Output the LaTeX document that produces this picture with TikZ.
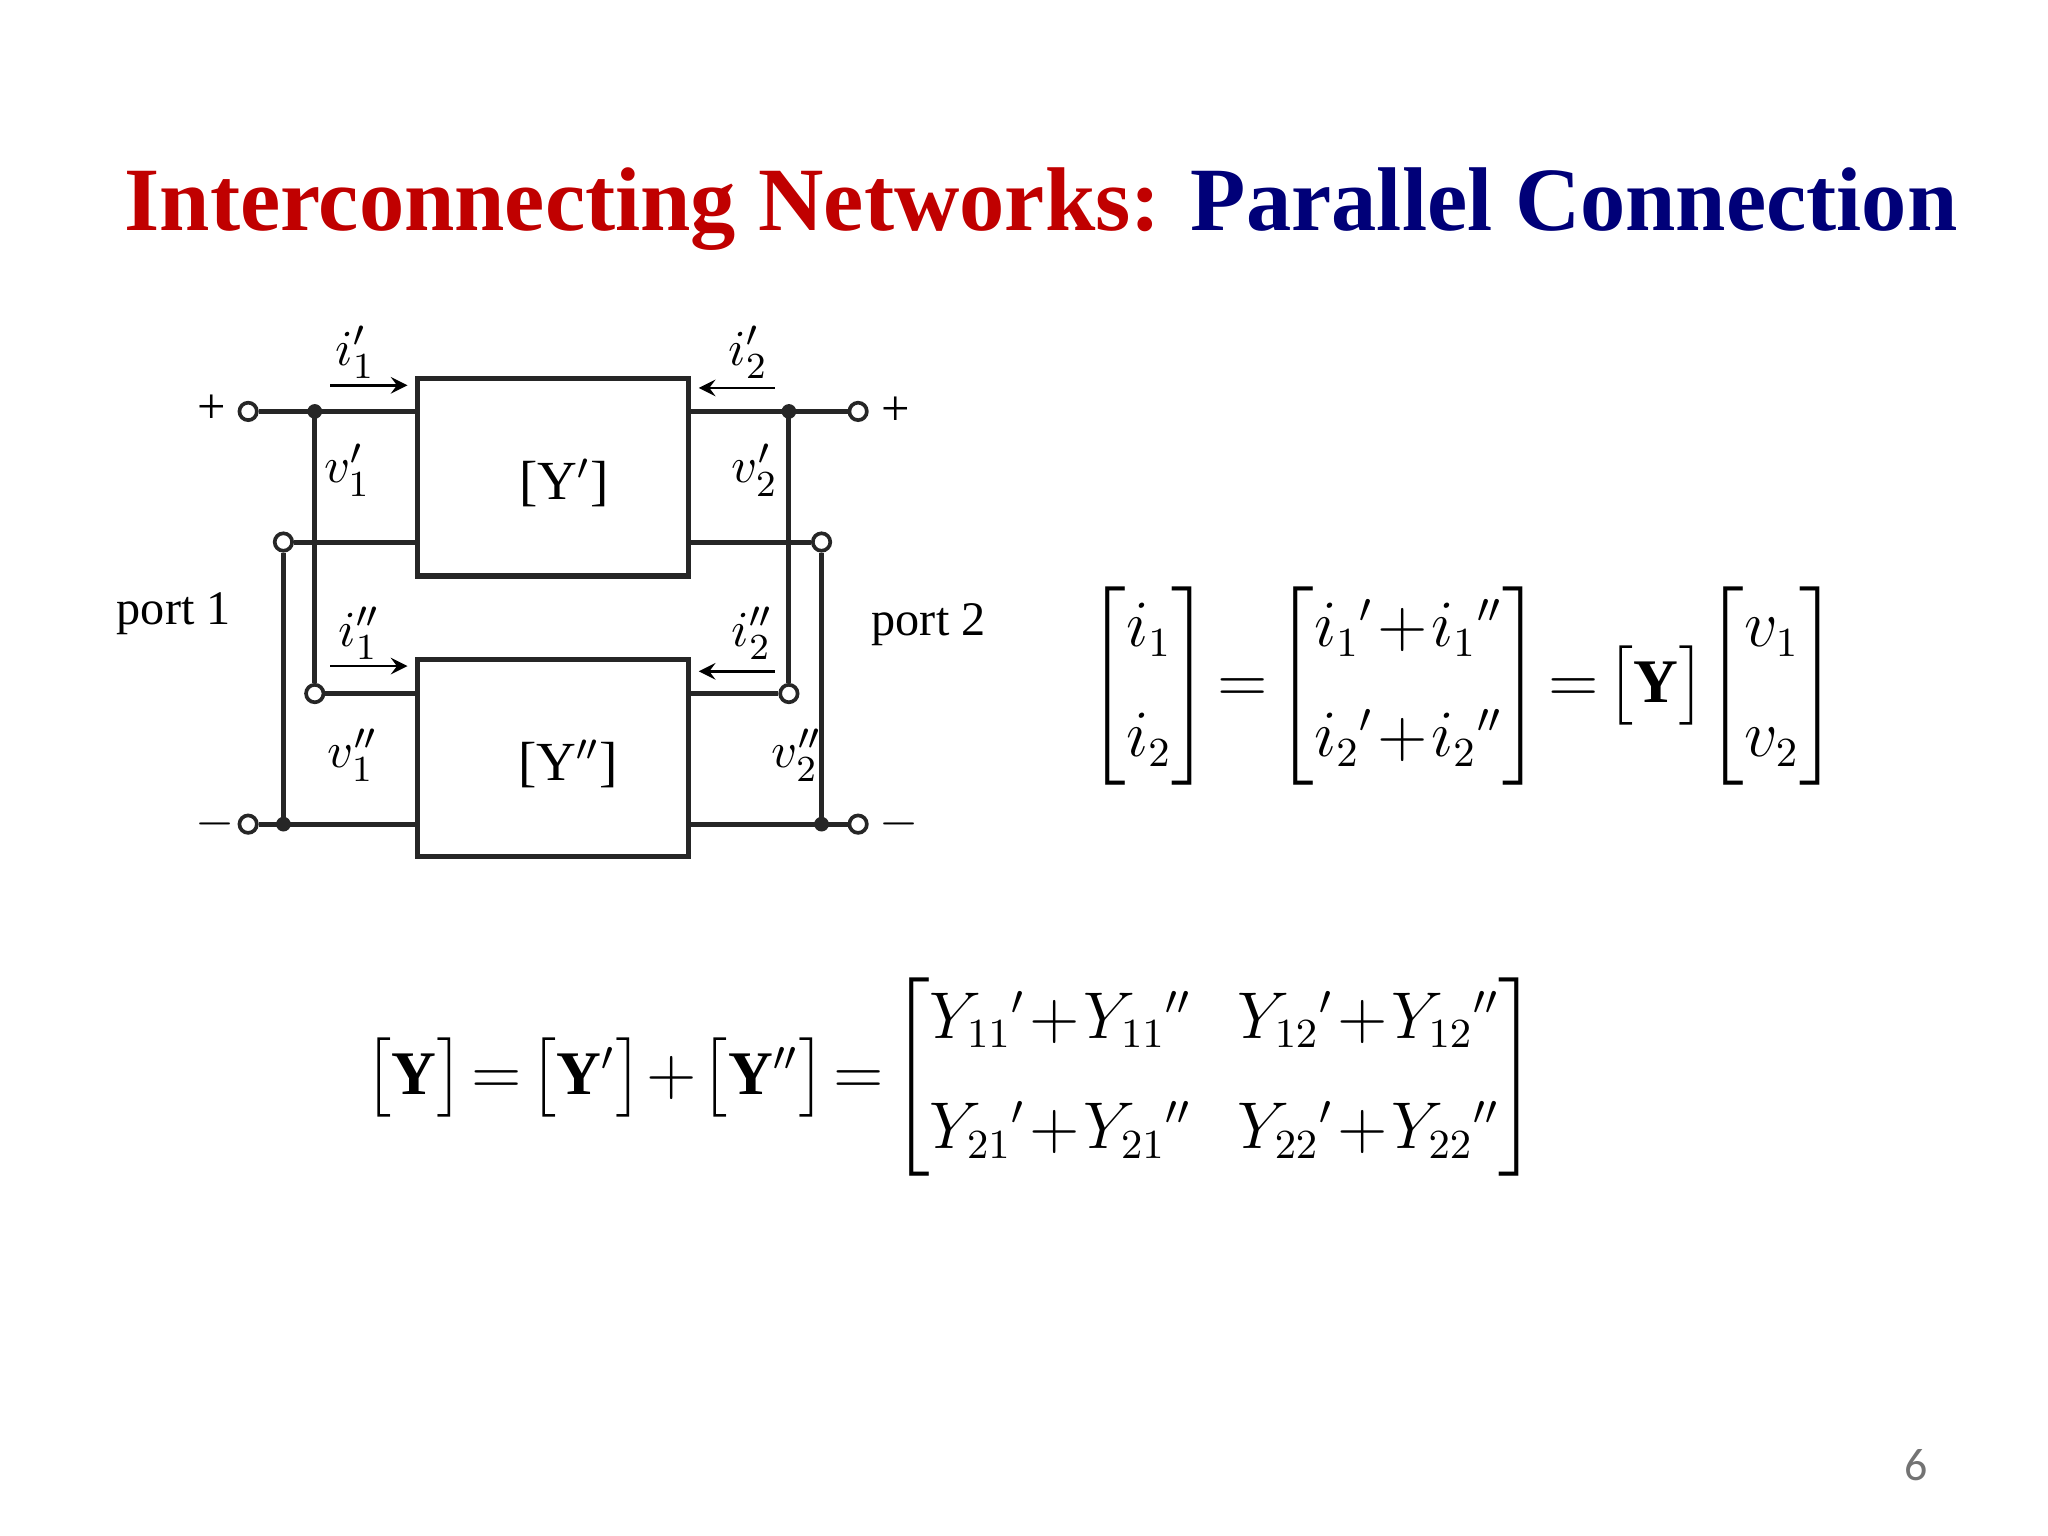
\documentclass[tikz,border=0pt]{standalone}
\usepackage{amsmath}
\usepackage{fontspec}
\setmainfont{Liberation Serif}
\newfontfamily\pgfont{Carlito}
\definecolor{tred}{RGB}{192,0,0}
\definecolor{tblue}{RGB}{0,0,120}
\begin{document}
\begin{tikzpicture}[x=0.01cm,y=-0.01cm,
  w/.style={line width=1.1pt,draw=black!85},
  oc/.style={circle,draw=black!85,line width=0.8pt,fill=white,inner sep=0,minimum size=3.8pt},
  dt/.style={circle,fill=black!85,inner sep=0,minimum size=3.2pt},
  bx/.style={draw=black!85,line width=1.1pt},
  lb/.style={font=\fontsize{11}{13}\selectfont},
  ar/.style={->,line width=0.6pt,>=stealth}]
\useasboundingbox (0,0) rectangle (1568,1176);
\node[font=\bfseries\fontsize{19.7}{24}\selectfont,anchor=center] (title) at (797,160) {\textcolor{tred}{Interconnecting Networks:} \textcolor{tblue}{Parallel Connection}};
% boxes
\draw[bx] (320,290) rectangle (527,441);
\draw[bx] (320,505) rectangle (527,656);
\node[font=\fontsize{12}{14}\selectfont] (y1) at (432,370) {[Y$'$]};
\node[font=\fontsize{12}{14}\selectfont] (y2) at (435,585) {[Y$''$]};
% terminals
\node[oc] (pa) at (190,315) {}; \node[oc] (pb) at (190,631) {};
\node[oc] (qa) at (657,315) {}; \node[oc] (qb) at (657,631) {};
\node[oc] (la) at (217,415) {}; \node[oc] (lb) at (241,531) {};
\node[oc] (ra) at (629,415) {}; \node[oc] (rb) at (604,531) {};
\coordinate (j1) at (241,315); \coordinate (j2) at (217,631);
\coordinate (j3) at (604,315); \coordinate (j4) at (629,631);
\draw[w] (pa) -- (320,315); \draw[w] (j1) -- (lb); \draw[w] (lb) -- (320,531);
\draw[w] (la) -- (320,415); \draw[w] (la) -- (j2); \draw[w] (pb) -- (320,631);
\draw[w] (527,315) -- (qa); \draw[w] (j3) -- (rb); \draw[w] (527,531) -- (rb);
\draw[w] (527,415) -- (ra); \draw[w] (ra) -- (j4); \draw[w] (527,631) -- (qb);
\node[dt] at (j1) {}; \node[dt] at (j2) {}; \node[dt] at (j3) {}; \node[dt] at (j4) {};
% labels
\node[lb] at (162,313) {+}; \node[lb] at (686,315) {+};
\node[lb] at (165,631) {$-$}; \node[lb] at (688,631) {$-$};
\node[lb] at (272,270) {$i_1'$}; \draw[ar] (253,295) -- (312,295);
\node[lb] at (573,270) {$i_2'$}; \draw[ar] (593,297) -- (535,297);
\node[lb] at (275,485) {$i_1''$}; \draw[ar] (253,510) -- (312,510);
\node[lb] at (576,485) {$i_2''$}; \draw[ar] (593,514) -- (535,514);
\node[lb] at (266,360) {$v_1'$}; \node[lb] at (578,360) {$v_2'$};
\node[lb] at (270,578) {$v_1''$}; \node[lb] at (610,578) {$v_2''$};
\node[font=\fontsize{10.5}{13}\selectfont] at (133,470) {port 1};
\node[font=\fontsize{10.5}{13}\selectfont] at (711,478) {port 2};
% equations
\node[font=\fontsize{13.5}{17}\selectfont] (e1) at (1120,525) {$\begin{bmatrix} i_1\\[7pt] i_2\end{bmatrix}\!=\!\begin{bmatrix} i_1{}'\!+\!i_1{}''\\[7pt] i_2{}'\!+\!i_2{}''\end{bmatrix}\!=\!\big[\mathbf{Y}\big]\!\begin{bmatrix} v_1\\[7pt] v_2\end{bmatrix}$};
\node[font=\fontsize{13.5}{17}\selectfont] (e2) at (728,825) {$\big[\mathbf{Y}\big]\!=\!\big[\mathbf{Y'}\big]\!+\!\big[\mathbf{Y''}\big]\!=\!\begin{bmatrix} Y_{11}{}'\!+\!Y_{11}{}'' & Y_{12}{}'\!+\!Y_{12}{}''\\[7pt] Y_{21}{}'\!+\!Y_{21}{}'' & Y_{22}{}'\!+\!Y_{22}{}''\end{bmatrix}$};
\node[font=\pgfont\fontsize{10}{12}\selectfont,text=black!55] (pg) at (1467,1122) {6};
\end{tikzpicture}
\end{document}
